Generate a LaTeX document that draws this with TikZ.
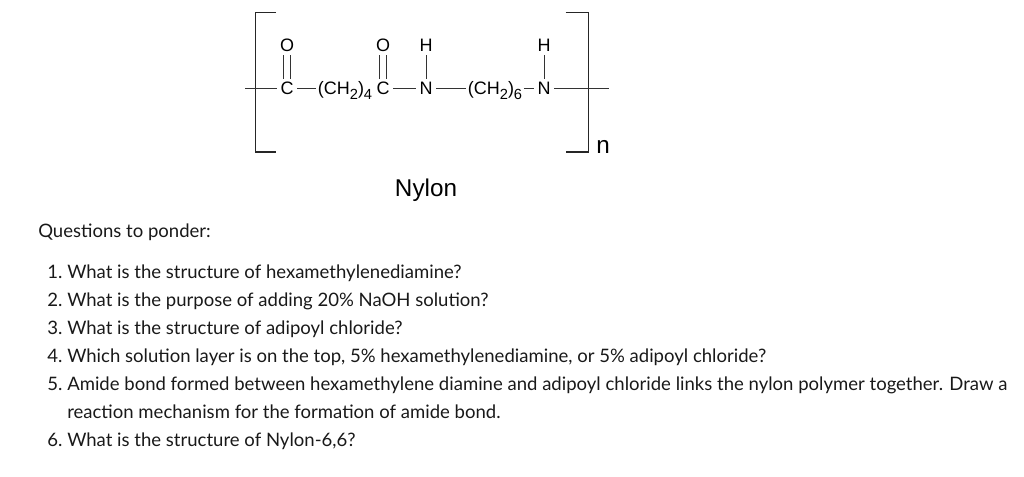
\documentclass[tikz,border=0pt]{standalone}
\usepackage{fontspec}
\setmainfont{Lato}
\newfontfamily\chemfont{Liberation Sans}
\usepackage{tikz}
\newcommand{\chemsub}[1]{\raisebox{-0.28em}{\fontsize{11}{12}\selectfont #1}}
\tikzset{
  atom/.style={font=\chemfont\fontsize{13.5}{15}\selectfont, inner sep=2.5pt, anchor=base},
  chain/.style={atom, inner sep=1pt},
  bond/.style={black!80, line width=0.7pt},
  dblbond/.style={bond, double, double distance=4.4pt},
  bracket/.style={black!85, line width=0.8pt},
  title/.style={font=\chemfont\fontsize{18.2}{20}\selectfont, inner sep=0pt, anchor=base},
  question/.style={font=\fontsize{13.9}{16}\selectfont, text=black!90, inner sep=0pt, anchor=base west}
}

\begin{document}
\begin{tikzpicture}[x=0.75pt, y=-0.75pt]
\useasboundingbox (0,0) rectangle (1024,477);

\draw[bracket] (276,12.7) -- (255.3,12.7) -- (255.3,152) -- (276,152);
\draw[bracket] (565.7,12.7) -- (588.3,12.7) -- (588.3,152) -- (565.7,152);

\node[atom] (carbonA) at (287, 94.8) {C};
\node[chain] (chainA) at (345, 94.8) {(CH\chemsub{2})\chemsub{4}};
\node[atom] (carbonB) at (383, 94.8) {C};
\node[atom] (nitrogenA) at (426, 94.8) {N};
\node[chain] (chainB) at (495, 94.8) {(CH\chemsub{2})\chemsub{6}};
\node[atom] (nitrogenB) at (544, 94.8) {N};
\node[atom] (oxygenA) at (287, 51.5) {O};
\node[atom] (oxygenB) at (383, 51.5) {O};
\node[atom] (hydrogenA) at (426, 51.5) {H};
\node[atom] (hydrogenB) at (544, 51.5) {H};
\coordinate (stubL) at (245, 88.3);
\coordinate (stubR) at (609, 88.3);

\draw[dblbond] (oxygenA) -- (carbonA);
\draw[dblbond] (oxygenB) -- (carbonB);
\draw[bond] (hydrogenA) -- (nitrogenA);
\draw[bond] (hydrogenB) -- (nitrogenB);
\draw[bond] (stubL) -- (carbonA.west |- stubL);
\draw[bond] (carbonA.east |- stubL) -- (chainA.west |- stubL);
\draw[bond] (carbonB.east |- stubL) -- (nitrogenA.west |- stubL);
\draw[bond] (nitrogenA.east |- stubL) -- (chainB.west |- stubL);
\draw[bond] (chainB.east |- stubL) -- (nitrogenB.west |- stubL);
\draw[bond] (nitrogenB.east |- stubL) -- (stubR);

\node[title] (repeat) at (603, 154) {n};
\node[title] (nylon) at (426, 197) {Nylon};

\node[question] (ponder) at (38, 238) {Questions to ponder:};
\node[question] (numA) at (47, 278.5) {1.};
\node[question] (textA) at (67, 278.5) {What is the structure of hexamethylenediamine?};
\node[question] (numB) at (47, 306.5) {2.};
\node[question] (textB) at (67, 306.5) {What is the purpose of adding 20\% NaOH solution?};
\node[question] (numC) at (47, 334.5) {3.};
\node[question] (textC) at (67, 334.5) {What is the structure of adipoyl chloride?};
\node[question] (numD) at (47, 362.5) {4.};
\node[question] (textD) at (67, 362.5) {Which solution layer is on the top, 5\% hexamethylenediamine, or 5\% adipoyl chloride?};
\node[question] (numE) at (47, 390.5) {5.};
\node[question] (textE) at (67, 390.5) {Amide bond formed between hexamethylene diamine and adipoyl chloride links the nylon polymer together. Draw a};
\node[question] (textEE) at (67, 418.5) {reaction mechanism for the formation of amide bond.};
\node[question] (numF) at (47, 446.5) {6.};
\node[question] (textF) at (67, 446.5) {What is the structure of Nylon-6,6?};

\end{tikzpicture}
\end{document}
